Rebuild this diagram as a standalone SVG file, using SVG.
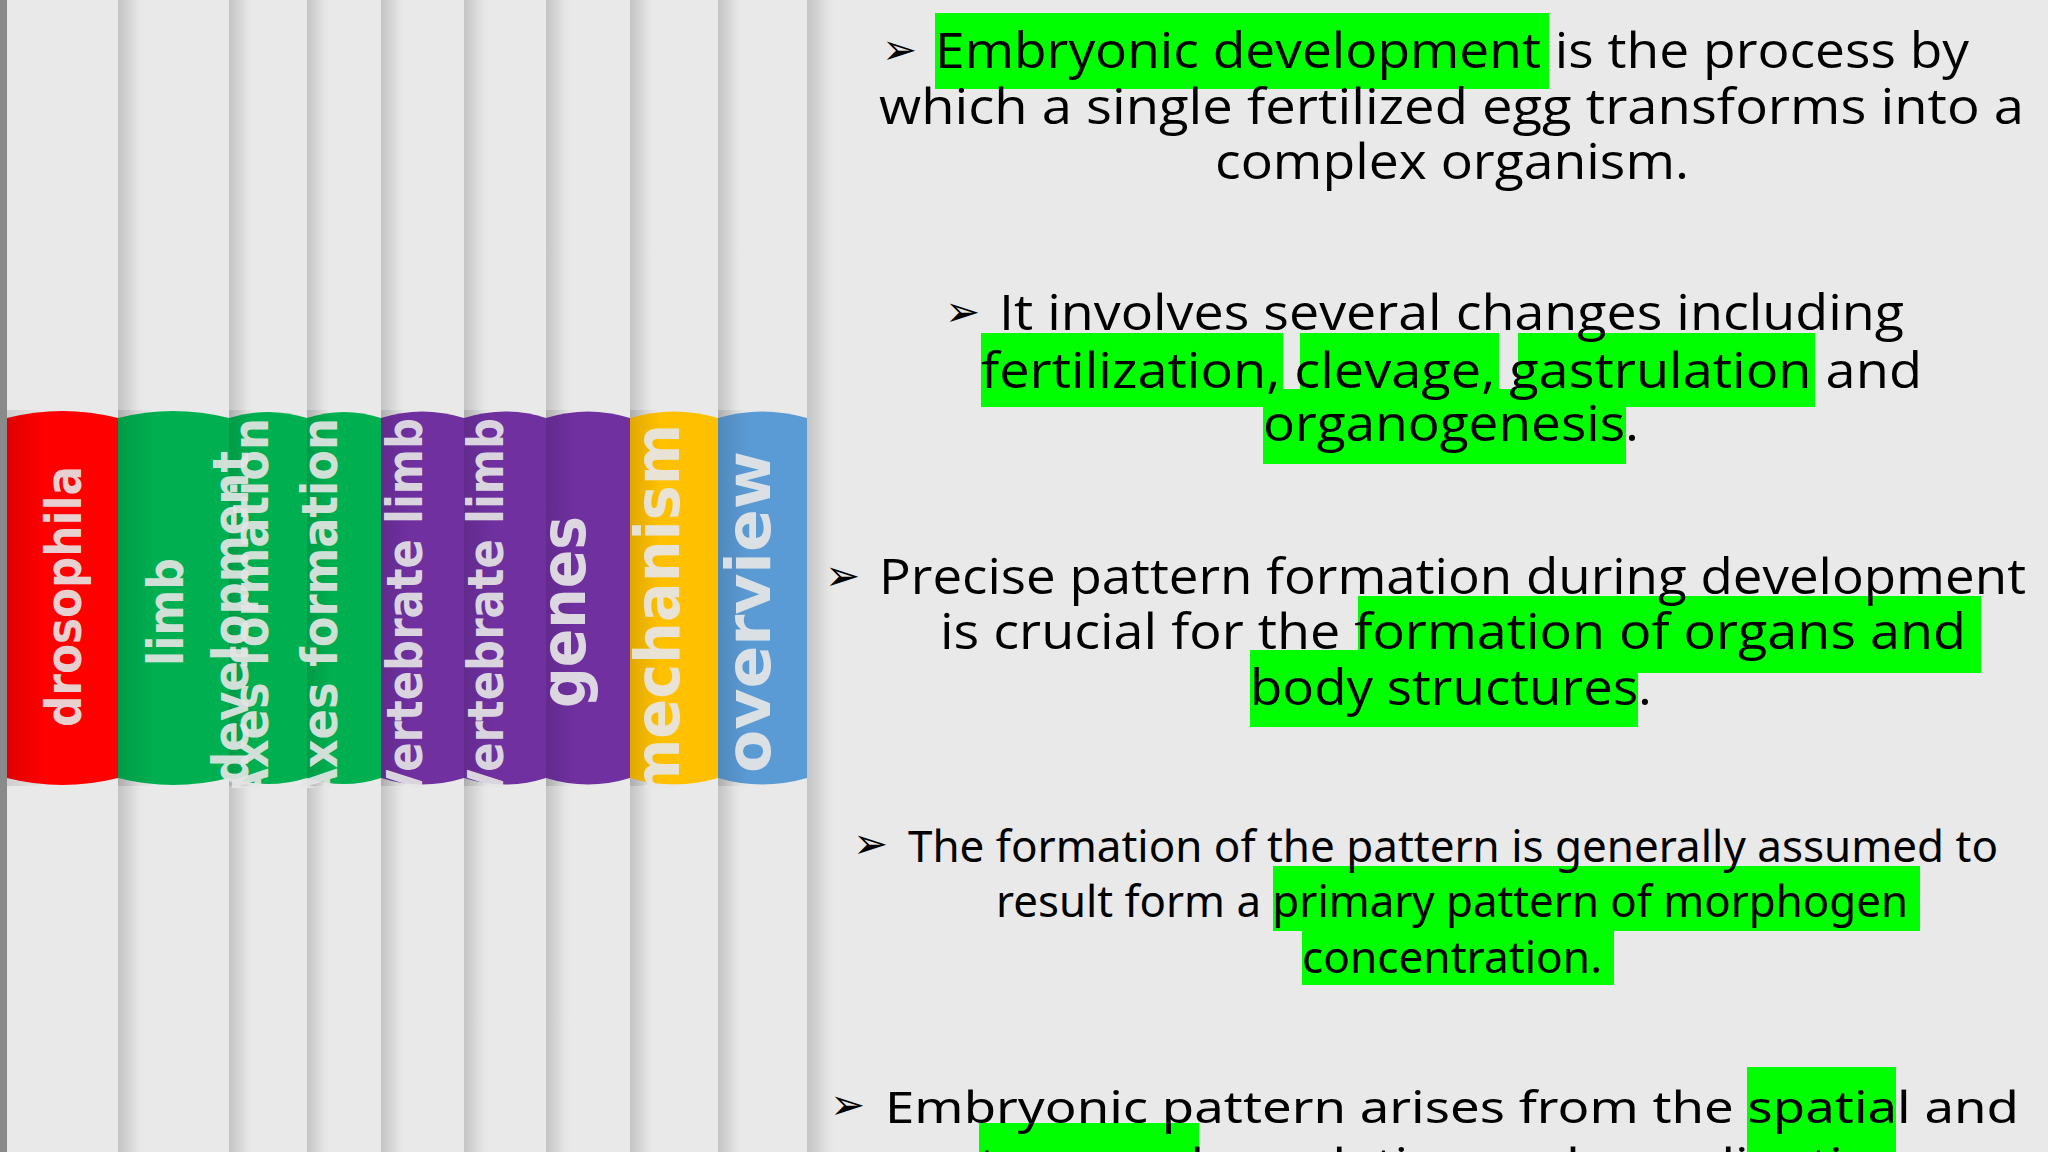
<svg xmlns="http://www.w3.org/2000/svg" width="2048" height="1152" viewBox="0 0 2048 1152">
<defs>
<linearGradient id="sh" x1="0" x2="1" y1="0" y2="0"><stop offset="0" stop-color="#c4c4c4"/><stop offset="0.5" stop-color="#dadada"/><stop offset="1" stop-color="#e9e9e9" stop-opacity="0"/></linearGradient>
<linearGradient id="bs" x1="0" x2="1" y1="0" y2="0"><stop offset="0" stop-color="#000" stop-opacity="0.12"/><stop offset="0.35" stop-color="#000" stop-opacity="0"/></linearGradient>
<clipPath id="bc"><rect x="0" y="407" width="810" height="381"/></clipPath>
</defs>
<style>
.sp{fill:#e6e6e6;fill-opacity:0.92;font-family:"DejaVu Sans",sans-serif;font-weight:bold}
.t{font-family:"Open Sans","Noto Sans",sans-serif;font-size:50px;fill:#000}
.t2{font-family:"Noto Sans",sans-serif;font-size:44px;fill:#000}
.hl{fill:#00ff00}
.ar{font-family:"DejaVu Sans",sans-serif;font-size:42px;fill:#000}
</style>
<rect width="2048" height="1152" fill="#e9e9e9"/>
<g id="strips">
<rect x="0" y="0" width="7" height="1152" fill="#8a8a8a"/>
<rect x="118" y="0" width="28" height="1152" fill="url(#sh)"/>
<rect x="229" y="0" width="26" height="1152" fill="url(#sh)"/>
<rect x="307" y="0" width="24" height="1152" fill="url(#sh)"/>
<rect x="381" y="0" width="26" height="1152" fill="url(#sh)"/>
<rect x="464" y="0" width="26" height="1152" fill="url(#sh)"/>
<rect x="546" y="0" width="26" height="1152" fill="url(#sh)"/>
<rect x="630" y="0" width="26" height="1152" fill="url(#sh)"/>
<rect x="718" y="0" width="26" height="1152" fill="url(#sh)"/>
<rect x="807" y="0" width="30" height="1152" fill="url(#sh)"/>
</g>
<g id="bands">
<path d="M7 418 Q62 404 118 418 V778 Q62 792 7 778Z" fill="#ff0000"/>
<path d="M118 418 Q173 404 229 418 V778 Q173 792 118 778Z" fill="#00b050"/>
<path d="M229 418 Q268 406 307 418 V778 Q268 790 229 778Z" fill="#00b050"/>
<path d="M307 418 Q344 406 381 418 V778 Q344 790 307 778Z" fill="#00b050"/>
<path d="M381 418 Q422 405 464 418 V778 Q422 791 381 778Z" fill="#7030a0"/>
<path d="M464 418 Q505 405 546 418 V778 Q505 791 464 778Z" fill="#7030a0"/>
<path d="M546 418 Q588 405 630 418 V778 Q588 791 546 778Z" fill="#7030a0"/>
<path d="M630 418 Q674 405 718 418 V778 Q674 791 630 778Z" fill="#ffc000"/>
<path d="M718 418 Q762 405 807 418 V778 Q762 791 718 778Z" fill="#5b9bd5"/>
<g fill="url(#bs)">
<rect x="7" y="410" width="111" height="376"/><rect x="118" y="410" width="111" height="376"/><rect x="229" y="410" width="78" height="376"/><rect x="307" y="410" width="74" height="376"/><rect x="381" y="410" width="83" height="376"/><rect x="464" y="410" width="82" height="376"/><rect x="546" y="410" width="84" height="376"/><rect x="630" y="410" width="88" height="376"/><rect x="718" y="410" width="89" height="376"/>
</g>
</g>
<g id="spine-labels" clip-path="url(#bc)">
<text class="sp" font-size="50" transform="translate(81,727) rotate(-90)" textLength="261" lengthAdjust="spacingAndGlyphs">drosophila</text>
<text class="sp" font-size="50" transform="translate(183,666) rotate(-90)" textLength="108" lengthAdjust="spacingAndGlyphs">limb</text>
<text class="sp" font-size="50" transform="translate(248,784) rotate(-90)" textLength="333" lengthAdjust="spacingAndGlyphs">development</text>
<text class="sp" font-size="50" transform="translate(268,803) rotate(-90)" textLength="385" lengthAdjust="spacingAndGlyphs">Axes formation</text>
<text class="sp" font-size="50" transform="translate(337,803) rotate(-90)" textLength="385" lengthAdjust="spacingAndGlyphs">Axes formation</text>
<text class="sp" font-size="50" transform="translate(422,803) rotate(-90)" textLength="385" lengthAdjust="spacingAndGlyphs">Vertebrate limb</text>
<text class="sp" font-size="50" transform="translate(503,803) rotate(-90)" textLength="385" lengthAdjust="spacingAndGlyphs">Vertebrate limb</text>
<text class="sp" font-size="62" transform="translate(585,708) rotate(-90)" textLength="192" lengthAdjust="spacingAndGlyphs">genes</text>
<text class="sp" font-size="62" transform="translate(679,800) rotate(-90)" textLength="376" lengthAdjust="spacingAndGlyphs">mechanism</text>
<text class="sp" font-size="62" transform="translate(770,773) rotate(-90)" textLength="322" lengthAdjust="spacingAndGlyphs">overview</text>
</g>
<g id="highlights">
<rect class="hl" x="935" y="13" width="614" height="76"/>
<rect class="hl" x="981" y="333" width="302" height="74"/>
<rect class="hl" x="1300" y="333" width="199" height="74"/>
<rect class="hl" x="1518" y="333" width="297" height="74"/>
<rect class="hl" x="1263" y="389" width="363" height="75"/>
<rect class="hl" x="1358" y="596" width="623" height="77"/>
<rect class="hl" x="1250" y="650" width="388" height="77"/>
<rect class="hl" x="1273" y="866" width="647" height="65"/>
<rect class="hl" x="1302" y="930" width="312" height="55"/>
<rect class="hl" x="1747" y="1067" width="149" height="85"/>
<rect class="hl" x="979" y="1123" width="220" height="29"/>
</g>
<g id="text">
<text class="ar" x="882" y="64">➢</text>
<text class="t" x="935" y="68" textLength="1034" lengthAdjust="spacingAndGlyphs">Embryonic development is the process by</text>
<text class="t" x="879" y="124" textLength="1145" lengthAdjust="spacingAndGlyphs">which a single fertilized egg transforms into a</text>
<text class="t" x="1215" y="179" textLength="474" lengthAdjust="spacingAndGlyphs">complex organism.</text>
<text class="ar" x="945" y="326">➢</text>
<text class="t" x="999" y="330" textLength="905" lengthAdjust="spacingAndGlyphs">It involves several changes including</text>
<text class="t" x="981" y="388" textLength="941" lengthAdjust="spacingAndGlyphs">fertilization, clevage, gastrulation and</text>
<text class="t" x="1263" y="441" textLength="376" lengthAdjust="spacingAndGlyphs">organogenesis.</text>
<text class="ar" x="825" y="590">➢</text>
<text class="t" x="879" y="594" textLength="1147" lengthAdjust="spacingAndGlyphs">Precise pattern formation during development</text>
<text class="t" x="940" y="649" textLength="1026" lengthAdjust="spacingAndGlyphs">is crucial for the formation of organs and</text>
<text class="t" x="1250" y="705" textLength="402" lengthAdjust="spacingAndGlyphs">body structures.</text>
<text class="ar" x="853" y="858">➢</text>
<text class="t2" x="908" y="862" textLength="1090" lengthAdjust="spacingAndGlyphs">The formation of the pattern is generally assumed to</text>
<text class="t2" x="996" y="917" textLength="912" lengthAdjust="spacingAndGlyphs">result form a primary pattern of morphogen</text>
<text class="t2" x="1302" y="973" textLength="300" lengthAdjust="spacingAndGlyphs">concentration.</text>
<text class="ar" x="830" y="1119">➢</text>
<text class="t2" font-size="50" x="885" y="1123" textLength="1134" lengthAdjust="spacingAndGlyphs">Embryonic pattern arises from the spatial and</text>
<text class="t2" font-size="50" x="979" y="1180" textLength="928" lengthAdjust="spacingAndGlyphs">temporal regulation and coordination</text>
</g>
</svg>
